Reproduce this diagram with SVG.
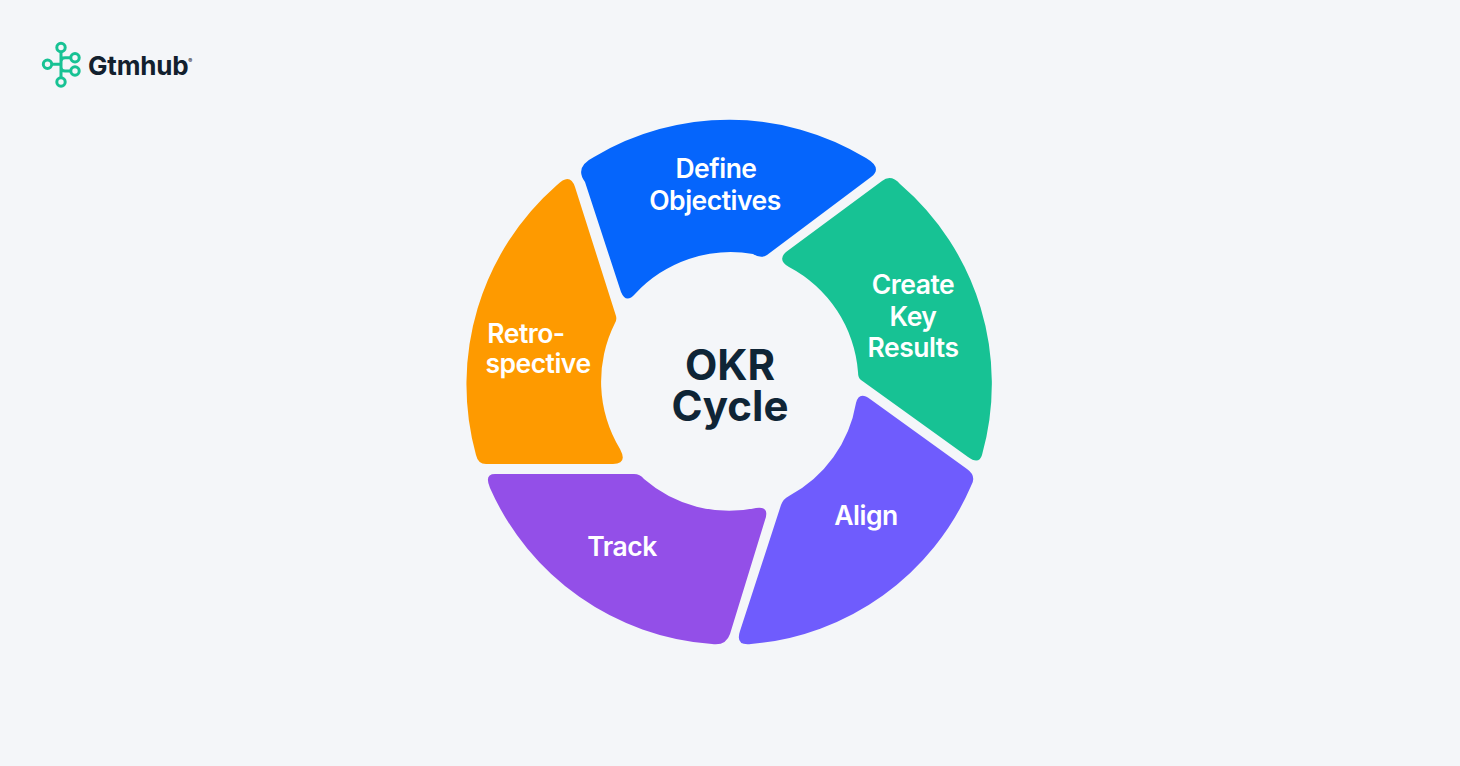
<svg xmlns="http://www.w3.org/2000/svg" width="1460" height="766" viewBox="0 0 1460 766">
<style>
.seg{font-family:Inter,"Liberation Sans",sans-serif;font-size:26.5px;font-weight:600;fill:#fff;text-anchor:middle;letter-spacing:-.5px}
.ctr{font-family:Inter,"Liberation Sans",sans-serif;font-size:42px;font-weight:700;fill:#0f2536;text-anchor:middle;letter-spacing:0}
.lg{fill:none;stroke:#17c294;stroke-width:3}
</style>
<rect width="1460" height="766" fill="#f4f6f9"/>
<g id="logo">
<g class="lg">
<circle cx="61" cy="47.5" r="4.2"/><circle cx="47.5" cy="64.3" r="4.2"/><circle cx="75" cy="57.7" r="4.2"/><circle cx="75" cy="71" r="4.2"/><circle cx="61" cy="82" r="4.2"/>
<path d="M61 51.7V77.8M51.7 64.3H61M61 61.5Q61 57.7 65 57.7H70.8M61 67Q61 71 65 71H70.8"/>
</g>
<text x="88" y="74.5" font-family="Inter,'Liberation Sans',sans-serif" font-size="26" font-weight="700" fill="#12202e" letter-spacing="-.2">Gtmhub<tspan font-size="6" dy="-12">®</tspan></text>
</g>
<g id="define-objectives">
<path fill="#0565fc" d="M594 157A264 264 0 0 1 866 158Q883 168 871 177L767 255Q761 259 753 254A130 130 0 0 0 635 294Q626 304 621 292L585 182Q574 167 594 157Z"/>
<text class="seg" x="716" y="178">Define</text><text class="seg" x="715" y="210">Objectives</text>
</g>
<g id="create-key-results">
<path fill="#17c294" d="M900 184A263 263 0 0 1 982 455Q979 465 968 457L861 380Q858 378 858 372A130 130 0 0 0 789 267Q777 260 786 252L882 181Q891 174 900 184Z"/>
<text class="seg" x="913" y="294">Create</text><text class="seg" x="913" y="326">Key</text><text class="seg" x="913" y="357">Results</text>
</g>
<g id="align">
<path fill="#6f5cfd" d="M870 399L967 469Q977 476 971 486A263 263 0 0 1 751 644Q735 646 740 631L781 505Q783 499 789 496A130 130 0 0 0 856 403Q859 391 870 399Z"/>
<text class="seg" x="866" y="525">Align</text>
</g>
<g id="track">
<path fill="#934fe8" d="M495 474L634 474Q640 474 644 479A130 130 0 0 0 756 508Q770 506 765 520L730 634Q726 646 712 644A263 263 0 0 1 490 488Q484 474 495 474Z"/>
<text class="seg" x="622" y="556">Track</text>
</g>
<g id="retrospective">
<path fill="#fe9a00" d="M575 187L616 316Q617 320 615 323A130 130 0 0 0 620 449Q628 464 613 464L486 464Q478 464 476 455A265 265 0 0 1 557 185Q570 172 575 187Z"/>
<text class="seg" x="526" y="343">Retro-</text><text class="seg" x="538" y="373">spective</text>
</g>
<g id="center">
<text class="ctr" x="730" y="380">OKR</text><text class="ctr" x="730" y="421">Cycle</text>
</g>
<g id="connectors"/>
</svg>
